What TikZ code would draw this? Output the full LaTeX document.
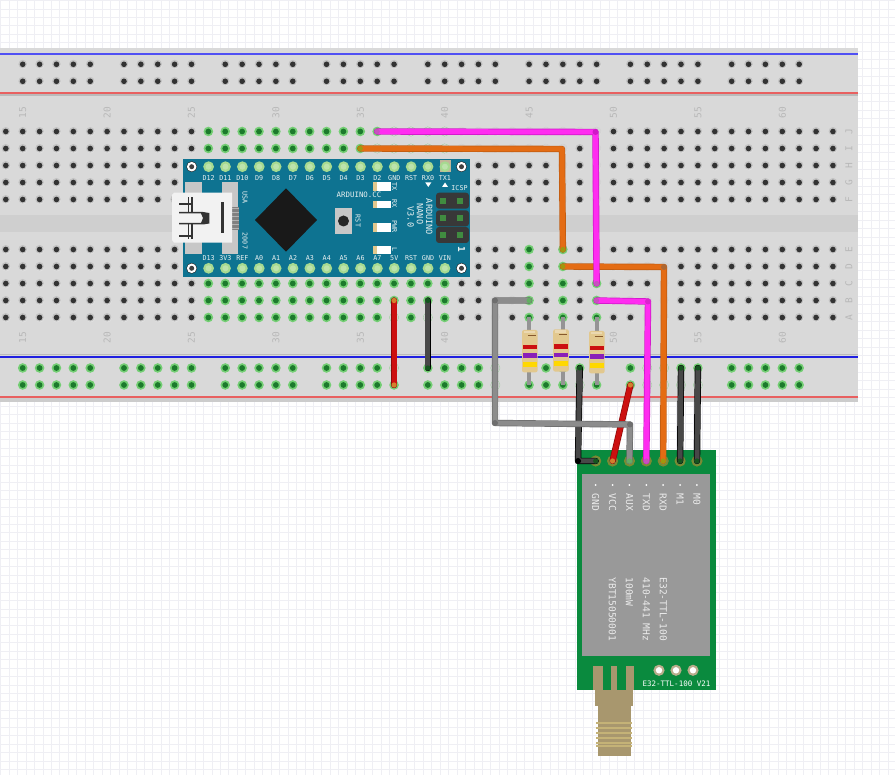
\documentclass[tikz,border=0pt]{standalone}
\usepackage{fontspec}
\newfontfamily\pcbfont{DejaVu Sans Mono}
\definecolor{gridcol}{HTML}{EFEFF4}
\definecolor{boardcol}{HTML}{D9D9D9}
\definecolor{pcbblue}{HTML}{0E7391}
\definecolor{pcbgreen}{HTML}{0A8A3E}
\definecolor{pcbtext}{HTML}{E8F0F0}
\definecolor{boardtext}{HTML}{B8B8B8}
\definecolor{padgreen}{HTML}{A6DA90}
\definecolor{tangold}{HTML}{A8976E}
\definecolor{railblue}{HTML}{5050F4}
\definecolor{railblue2}{HTML}{2020E0}
\definecolor{railred}{HTML}{E86060}
\definecolor{haloc}{HTML}{C2C2C2}
\definecolor{halolight}{HTML}{E2E2E2}
\definecolor{ghalo}{HTML}{74CE74}
\definecolor{gdot}{HTML}{1C7A2C}
\definecolor{wmagcol}{HTML}{FF2CF0}
\definecolor{wmagedge}{HTML}{D018C8}
\definecolor{worgcol}{HTML}{E46C14}
\definecolor{worgedge}{HTML}{C05C12}
\definecolor{wgrycol}{HTML}{8C8C8C}
\definecolor{wgryedge}{HTML}{6E6E6E}
\definecolor{wblkcol}{HTML}{484848}
\definecolor{wredcol}{HTML}{CC1010}
\definecolor{wrededge}{HTML}{8E0A0A}
\definecolor{rescol}{HTML}{E2C88E}
\definecolor{resred}{HTML}{CC1010}
\definecolor{respur}{HTML}{8A1FB8}
\definecolor{resyel}{HTML}{FFD800}
\definecolor{threadcol}{HTML}{C4B277}

\tikzstyle{gridline}=[draw=gridcol,line width=0.6pt]
\tikzstyle{holehalo}=[fill=haloc]
\tikzstyle{holelight}=[fill=halolight]
\tikzstyle{holedot}=[fill=black!80]
\tikzstyle{greenhalo}=[fill=ghalo]
\tikzstyle{greendot}=[fill=gdot]
\tikzstyle{holefaint}=[fill=black!17]
\tikzstyle{pad}=[fill=padgreen]
\tikzstyle{wire}=[line width=0.7pt,double distance=5pt,line cap=round,line join=round]
\tikzstyle{wmagenta}=[wire,draw=wmagedge,double=wmagcol]
\tikzstyle{worange}=[wire,draw=worgedge,double=worgcol]
\tikzstyle{wgrey}=[wire,draw=wgryedge,double=wgrycol]
\tikzstyle{wblack}=[wire,draw=black,double=wblkcol]
\tikzstyle{wred}=[wire,draw=wrededge,double=wredcol]
\tikzstyle{resbody}=[fill=rescol,rounded corners=2pt]
\tikzstyle{reslead}=[draw=black!42,line width=4pt]
\tikzstyle{pcbtxt}=[text=pcbtext,inner sep=0pt,font=\pcbfont\fontsize{6.7}{7}\selectfont]
\tikzstyle{modtxt}=[text=black!8,inner sep=0pt,anchor=west,rotate=-90,font=\pcbfont\fontsize{9.6}{10}\selectfont]
\tikzstyle{boardtxt}=[text=boardtext,inner sep=0pt,rotate=90,font=\pcbfont\fontsize{9.5}{10}\selectfont]
\tikzstyle{led}=[fill=white]
\tikzstyle{ledend}=[fill=rescol]
\tikzstyle{usbdark}=[fill=black!80]

\begin{document}
\begin{tikzpicture}[x=1pt,y=-1pt]
   \useasboundingbox (0,0) rectangle (895,775);
   \fill[white] (0,0) rectangle (895,775);

   % background grid
   \foreach \g in {0,...,106} {
      \draw[gridline] (0.6+8.45*\g,0) -- (0.6+8.45*\g,775);
   }
   \foreach \g in {0,...,92} {
      \draw[gridline] (0,0.4+8.45*\g) -- (895,0.4+8.45*\g);
   }

   % breadboard
   \fill[boardcol] (0,48) rectangle (858,402);
   \fill[black!19] (0,215) rectangle (858,232);
   \fill[black!27] (0,94.5) rectangle (858,96);
   \fill[black!27] (0,354) rectangle (858,355);
   \fill[black!20] (0,398) rectangle (858,402);
   \fill[railblue] (0,52.8) rectangle (858,54.6);
   \fill[railred] (0,92.2) rectangle (858,93.8);
   \fill[railblue2] (0,356.5) rectangle (858,358);
   \fill[railred] (0,396) rectangle (858,398);

   \foreach \num in {15,20,...,60} {
      \pgfmathsetmacro\hx{22.7+16.88*(\num-15)}
      \node[boardtxt] (top\num) at (\hx,112.5) {\num};
      \node[boardtxt] (bot\num) at (\hx,338) {\num};
   }
   \foreach \r/\ry in {J/131.5,I/148.5,H/165.5,G/182.5,F/199.5,E/249.5,D/266.5,C/283.5,B/300.5,A/317.5} {
      \node[boardtxt] (lab\r) at (849,\ry) {\r};
   }

   % main holes
   \foreach \r/\ry in {J/131.5,I/148.5,H/165.5,G/182.5,F/199.5,E/249.5,D/266.5,C/283.5,B/300.5,A/317.5} {
      \foreach \c in {14,...,63} {
         \pgfmathsetmacro\hx{22.7+16.88*(\c-15)}
         \coordinate (h\r\c) at (\hx,\ry);
         \fill[holelight] (\hx+0.4,\ry+0.6) circle (4.3);
         \fill[holehalo] (\hx,\ry-0.2) circle (4.3);
         \fill[holedot] (h\r\c) circle (2.8);
      }
   }
   % rail holes
   \foreach \r/\ry in {Q/64.3,R/81.3,N/368,P/385} {
      \foreach \c in {15,...,19,21,22,...,25,27,28,...,31,33,34,...,37,39,40,...,43,45,46,...,49,51,52,...,55,57,58,...,61} {
         \pgfmathsetmacro\hx{22.7+16.88*(\c-15)}
         \coordinate (h\r\c) at (\hx,\ry);
         \fill[holelight] (\hx+0.4,\ry+0.6) circle (4.3);
         \fill[holehalo] (\hx,\ry-0.2) circle (4.3);
         \fill[holedot] (h\r\c) circle (2.8);
      }
   }

   % connected holes
   \foreach \r in {J,I,C,B,A} {
      \foreach \c in {26,...,40} {
         \fill[greenhalo] (h\r\c) circle (4.8);
         \fill[greendot] (h\r\c) circle (2.9);
      }
   }
   \foreach \h in {E45,D45,C45,B45,A45,E47,D47,C47,B47,A47,C49,B49,A49} {
      \fill[greenhalo] (h\h) circle (4.8);
      \fill[greendot] (h\h) circle (2.9);
   }
   \foreach \r in {N,P} {
      \foreach \c in {15,...,19,21,22,...,25,27,28,...,31,33,34,...,37,39,40,...,43,45,46,...,49,51,52,...,55,57,58,...,61} {
         \fill[greenhalo] (h\r\c) circle (4.8);
         \fill[greendot] (h\r\c) circle (2.9);
      }
   }

   % holes under the wires
   \foreach \c in {37,...,49} {\fill[holefaint] (hJ\c) circle (4.6);}
   \foreach \c in {36,...,47} {\fill[holefaint] (hI\c) circle (4.6);}
   \foreach \c in {48,...,53} {\fill[holefaint] (hD\c) circle (4.6);}
   \foreach \h in {H47,G47,F47,I49,H49,G49,F49,E49,D49,B44,B43,A43,B50,B51,B52,A52,C53,B53,A53,A37,A39,N37,N43,P43,P48,N52,N53,P52,P53,P54,P55} {
      \fill[holefaint] (h\h) circle (4.6);
   }

   % resistors
   \draw[reslead] (hA45) -- (hP45);
   \draw[reslead] (hA47) -- (hP47);
   \draw[reslead] (hA49) -- (hP49);
   \foreach \rname/\rx/\ry in {r1/529.8/330,r2/561/329.3,r3/596.8/331} {
      \fill[resbody] (\rx-7.8,\ry) coordinate(\rname tl) rectangle (\rx+7.8,\ry+42.3) coordinate(\rname br);
      \fill[rescol!70!white] (\rx-6,\ry+1) rectangle (\rx+5,\ry+3.5);
      \draw[brown!70!black,line width=0.6pt] (\rx-2,\ry+5) -- (\rx+6,\ry+5);
      \fill[resred] (\rx-6.8,\ry+15) rectangle (\rx+6.8,\ry+19.5);
      \fill[respur] (\rx-6.8,\ry+23.5) rectangle (\rx+6.8,\ry+28);
      \fill[resyel] (\rx-6.8,\ry+32) rectangle (\rx+6.8,\ry+37);
   }

   % nano board
   \fill[pcbblue] (183.3,159) coordinate(nanotl) rectangle (470,276.7) coordinate(nanobr);
   \foreach \px/\py in {191.7/166.7,461.5/166.7,191.7/268.3,461.5/268.3} {
      \fill[black!85] (\px,\py) circle (5.4);
      \fill[white] (\px,\py) circle (4.8);
      \fill[black!75] (\px,\py) circle (2.5);
   }
   \fill[tangold!70!white] (439.5,160.5) rectangle (451,172);
   \foreach \lbl [count=\i from 0] in {D12,D11,D10,D9,D8,D7,D6,D5,D4,D3,D2,GND,RST,RX0,TX1} {
      \pgfmathsetmacro\hx{208.6+16.88*\i}
      \fill[pad] (\hx,166.7) circle (5.4);
      \fill[padgreen!75!white] (\hx,166.7) circle (3);
      \node[pcbtxt] (nt\i) at (\hx,178.3) {\lbl};
   }
   \foreach \lbl [count=\i from 0] in {D13,3V3,REF,A0,A1,A2,A3,A4,A5,A6,A7,5V,RST,GND,VIN} {
      \pgfmathsetmacro\hx{208.6+16.88*\i}
      \fill[pad] (\hx,268.3) circle (5.4);
      \fill[padgreen!75!white] (\hx,268.3) circle (3);
      \node[pcbtxt] (nb\i) at (\hx,258.3) {\lbl};
   }

   % chip, button, leds
   \fill[black!90] (255,220) -- (286,188.3) -- (317,220) -- (286,251.7) -- cycle;
   \fill[black!22] (335,207.7) rectangle (352,234);
   \fill[black!85] (343.5,221) circle (5.5);
   \foreach \ly/\lh in {182/8.7,200.7/7.6,222.7/9,245.7/8.3} {
      \fill[led] (372.7,\ly) rectangle (390.7,\ly+\lh);
      \fill[ledend] (372.7,\ly) rectangle (377,\ly+\lh);
   }
   \node[pcbtxt,rotate=-90] (ltx) at (394.5,186.5) {TX};
   \node[pcbtxt,rotate=-90] (lrx) at (394.5,204) {RX};
   \node[pcbtxt,rotate=-90] (lpwr) at (394.5,226.7) {PWR};
   \node[pcbtxt,rotate=-90] (ll) at (394.5,250) {L};
   \node[pcbtxt,font=\pcbfont\fontsize{7.4}{8}\selectfont] (lcc) at (359,195.3) {ARDUINO.CC};
   \node[pcbtxt,rotate=-90] (lrst) at (358,221) {RST};
   \node[pcbtxt,rotate=-90] (lusa) at (245,197.7) {USA};
   \node[pcbtxt,rotate=-90] (l2007) at (245,241) {2007};
   \node[pcbtxt,rotate=-90,font=\pcbfont\fontsize{8.6}{9}\selectfont] (lard) at (429.3,217) {ARDUINO};
   \node[pcbtxt,rotate=-90,font=\pcbfont\fontsize{8.6}{9}\selectfont] (lnano) at (420,214) {NANO};
   \node[pcbtxt,rotate=-90,font=\pcbfont\fontsize{8.6}{9}\selectfont] (lver) at (410.7,217) {V3.0};
   \node[pcbtxt] (licsp) at (459.5,188.3) {ICSP};
   \fill[white] (425.3,182.5) -- (431.3,182.5) -- (428.3,187) -- cycle;
   \fill[white] (442,187) -- (448,187) -- (445,182.5) -- cycle;

   % icsp header
   \foreach \iy in {200.7,218.3,235} {
      \fill[black!78,rounded corners=3pt] (436,\iy-8) rectangle (469,\iy+8);
      \fill[green!40!black!75!white] (440.3,\iy-3) rectangle (446.3,\iy+3);
      \fill[green!40!black!75!white] (457,\iy-3) rectangle (463,\iy+3);
   }
   \node[pcbtxt,rotate=-90,font=\pcbfont\bfseries\fontsize{9.5}{10}\selectfont] (lone) at (461.7,249.3) {1};

   % usb plug
   \fill[black!22] (185,182) rectangle (201.7,254);
   \fill[black!22] (222.3,182) rectangle (238.3,254);
   \fill[black!50] (231.7,206.7) rectangle (239,230);
   \foreach \uy in {208,212,216,220,224,228} {
      \fill[black!30] (232,\uy) rectangle (239,\uy+1.4);
   }
   \fill[black!5] (172,195) -- (174,192.7) -- (232,192.7) -- (232,242.7) -- (174,242.7) -- (172,240) -- cycle;
   \fill[usbdark] (220.7,201.7) rectangle (224,233.3);
   \fill[usbdark] (179,203.2) rectangle (193,205);
   \fill[usbdark] (179,235.2) rectangle (193,237);
   \fill[usbdark] (179,212) -- (203,212) -- (209.3,213) -- (209.3,223.5) -- (203,224.5) -- (179,224.5) -- (179,223) -- (201,223) -- (203,218) -- (201,213.5) -- (179,213.5) -- cycle;
   \fill[usbdark] (187.5,197) rectangle (189,212);
   \fill[usbdark] (191,197) rectangle (192.5,212);
   \fill[usbdark] (187.5,224) rectangle (189,239);
   \fill[usbdark] (191,224) rectangle (192.5,239);

   % lora module
   \fill[pcbgreen] (576.7,450.5) coordinate(modtl) rectangle (716,690) coordinate(modbr);
   \fill[black!40] (582.3,474.3) rectangle (710,656);
   \foreach \lbl [count=\i from 0] in {GND,VCC,AUX,TXD,RXD,M1,M0} {
      \pgfmathsetmacro\hx{595.7+16.88*\i}
      \coordinate (p\lbl) at (\hx,461);
      \fill[green!40!orange!60!black!80!white] (p\lbl) circle (5.6);
      \fill[green!50!black!65!white] (p\lbl) circle (3.6);
      \fill[white] (\hx,485) circle (1);
      \node[modtxt] (m\lbl) at (\hx,493.5) {\lbl};
   }
   \node[modtxt] (mname) at (663.3,577.3) {E32-TTL-100};
   \node[modtxt] (mfreq) at (646.3,577.3) {410-441 MHz};
   \node[modtxt] (mpow) at (629.3,577.3) {100mW};
   \node[modtxt] (mser) at (612.4,577.3) {YBT15050001};
   \foreach \ax in {659,676,693} {
      \fill[tangold!80!white] (\ax,670.3) circle (5.6);
      \fill[white] (\ax,670.3) circle (3.2);
   }
   \node[pcbtxt,text=white,font=\pcbfont\fontsize{7.5}{8}\selectfont] (mver) at (676.5,683.3) {E32-TTL-100 V21};

   % antenna
   \fill[tangold] (593.3,665.7) rectangle (603,690);
   \fill[tangold] (611,665.7) rectangle (617,690);
   \fill[tangold] (625.7,665.7) rectangle (634.3,690);
   \fill[tangold] (595,690) rectangle (632.7,705.7);
   \fill[tangold] (597.7,705.7) rectangle (630.7,756);
   \foreach \ty in {722,727,732,737,742,745} {
      \fill[threadcol] (596,\ty) rectangle (632,\ty+1.5);
   }

   % wires
   \coordinate (bblk) at (578,461);
   \coordinate (bor1) at (562,149);
   \coordinate (bor2) at (664,267);
   \coordinate (bmg1) at (595.5,132);
   \coordinate (bmg2) at (648,301.5);
   \coordinate (bgr1) at (495,300.5);
   \coordinate (bgr2) at (495,423);
   \coordinate (bgr3) at (630,424.5);

   \draw[wblack] (hN48) -- (bblk) -- (pGND);
   \draw[wblack] (hN54) -- (pM1);
   \draw[wblack] (hN55) -- (pM0);
   \draw[wblack] (hB39) -- (hN39);
   \draw[wred] (hB37) -- (hP37);
   \draw[wred] (hP51) -- (pVCC);
   \draw[worange] (hI35) -- (bor1) -- (hE47);
   \draw[worange] (hD47) -- (bor2) -- (pRXD);
   \draw[wmagenta] (hJ36) -- (bmg1) -- (hC49);
   \draw[wmagenta] (hB49) -- (bmg2) -- (pTXD);
   \draw[wgrey] (hB45) -- (bgr1) -- (bgr2) -- (bgr3) -- (pAUX);

   % wire ends over the holes
   \foreach \e in {hN48,hN54,hN55,hB39,hN39,pGND,pM1,pM0} {\fill[gdot!70!black] (\e) circle (2.6);}
   \foreach \e in {hB37,hP37,hP51,pVCC} {\fill[brown!70!orange] (\e) circle (2.6);}
   \foreach \e in {hI35,hE47,hD47,pRXD} {\fill[worgcol!70!green] (\e) circle (2.6);}
   \foreach \e in {hJ36,hC49,hB49,pTXD} {\fill[wmagcol!55!gray] (\e) circle (2.6);}
   \foreach \e in {hB45,pAUX} {\fill[wgrycol!70!green] (\e) circle (2.6);}
   \fill[black] (bblk) circle (3);
   \foreach \e in {bgr1,bgr2,bgr3} {\fill[wgryedge] (\e) circle (3);}
   \fill[worgedge!70!gray] (bor2) circle (3);
   \fill[wmagedge] (bmg1) circle (3);
   \fill[wmagcol!85!black] (bmg2) circle (3);

 
\end{tikzpicture}
\end{document}
